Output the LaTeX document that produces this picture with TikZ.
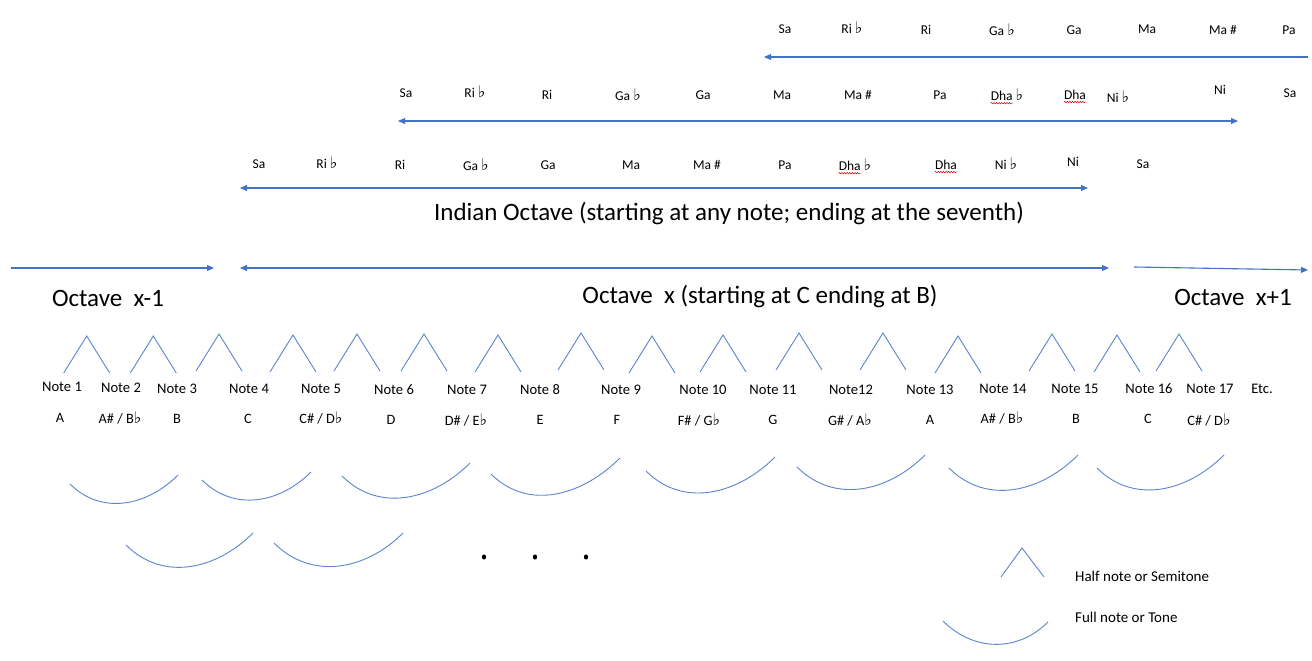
\documentclass[tikz,border=0pt]{standalone}
\usepackage{fontspec}
\setmainfont{Carlito}
\newfontfamily\symfont{DejaVu Sans}
\usetikzlibrary{arrows.meta,decorations.pathmorphing,calc}
\definecolor{lineblue}{HTML}{4472C4}
\definecolor{peakblue}{HTML}{5B84D0}
\newcommand{\fl}{{\symfont\fontsize{16}{10}\selectfont ♭}}
\newcommand{\sfl}{{\symfont\fontsize{16}{10}\selectfont ♭}}
\tikzset{
  sm/.style={font=\fontsize{13.5}{15}\selectfont, inner sep=0pt, anchor=center},
  nm/.style={font=\fontsize{14.3}{16}\selectfont, inner sep=0pt, anchor=center},
  nt/.style={font=\fontsize{14.6}{16}\selectfont, inner sep=0pt, anchor=center},
  big/.style={font=\fontsize{25}{28}\selectfont, inner sep=0pt, anchor=center},
  leg/.style={font=\fontsize{15}{17}\selectfont, inner sep=0pt, anchor=west},
  arrline/.style={draw=lineblue, line width=1.1pt},
  tip/.style={-{Triangle[length=7pt,width=6pt]}},
  biarrow/.style={{Triangle[length=7pt,width=6pt]}-{Triangle[length=7pt,width=6pt]}},
  halfstep/.style={draw=peakblue, line width=0.9pt},
  tonearc/.style={draw=peakblue, line width=0.9pt},
  wavy/.style={draw=red!85!black, line width=0.5pt, decorate, decoration={snake, amplitude=0.7pt, segment length=2.6pt}},
}
\newcommand{\peak}[2]{\draw[halfstep] (#1-23,#2+37) -- (#1,#2) -- (#1+23,#2+37);}
\newcommand{\tarc}[4]{%
  \pgfmathsetmacro{\dd}{0.29*(#3-#1)}%
  \draw[tonearc] (#1,#2) .. controls ({#1+\dd},{#2+\dd}) and ({#3-\dd},{#4+\dd}) .. (#3,#4);}
\begin{document}
\begin{tikzpicture}[x=1pt,y=-1pt]
\fill[white] (0,0) rectangle (1312,661);
\useasboundingbox (0,0) rectangle (1312,661);

% ---------- Row 1 ----------
\node[sm] (r1a) at (785,29) {Sa};
\node[sm] (r1b) at (852,28) {Ri \fl};
\node[sm] (r1c) at (926,30) {Ri};
\node[sm] (r1d) at (1002,30) {Ga \fl};
\node[sm] (r1e) at (1074,30) {Ga};
\node[sm] (r1f) at (1147,29) {Ma};
\node[sm] (r1g) at (1223,30) {Ma \#};
\node[sm] (r1h) at (1289,30) {Pa};
\coordinate (r1s) at (1308,57);
\coordinate (r1t) at (764,57);
\draw[arrline,tip] (r1s) -- (r1t);

% ---------- Row 2 ----------
\node[sm] (r2a) at (406,93) {Sa};
\node[sm] (r2b) at (475,92) {Ri \fl};
\node[sm] (r2c) at (547,95) {Ri};
\node[sm] (r2d) at (628,95) {Ga \fl};
\node[sm] (r2e) at (703,95) {Ga};
\node[sm] (r2f) at (782,95) {Ma};
\node[sm] (r2g) at (858,95) {Ma \#};
\node[sm] (r2h) at (940,95) {Pa};
\node[sm] (r2i) at (1007,95) {Dha \fl};
\node[sm] (r2j) at (1075,95) {Dha};
\node[sm] (r2k) at (1118,97) {Ni \fl};
\node[sm] (r2l) at (1220,90) {Ni};
\node[sm] (r2m) at (1290,93) {Sa};
\coordinate (r2s) at (398,121);
\coordinate (r2t) at (1238,121);
\draw[arrline,biarrow] (r2s) -- (r2t);
\draw[wavy] ($(r2i.base west)+(0,2.4)$) -- ++(22,0);
\draw[wavy] ($(r2j.base west)+(0,2.4)$) -- ++(22,0);

% ---------- Row 3 ----------
\node[sm] (r3a) at (259,164) {Sa};
\node[sm] (r3b) at (327,163) {Ri \fl};
\node[sm] (r3c) at (400,165) {Ri};
\node[sm] (r3d) at (476,165) {Ga \fl};
\node[sm] (r3e) at (548,165) {Ga};
\node[sm] (r3f) at (631,165) {Ma};
\node[sm] (r3g) at (707,165) {Ma \#};
\node[sm] (r3h) at (785,165) {Pa};
\node[sm] (r3i) at (855,165) {Dha \fl};
\node[sm] (r3j) at (946,165) {Dha};
\node[sm] (r3k) at (1006,164) {Ni \fl};
\node[sm] (r3l) at (1073,162) {Ni};
\node[sm] (r3m) at (1143,164) {Sa};
\coordinate (r3s) at (240,188);
\coordinate (r3t) at (1088,188);
\draw[arrline,biarrow] (r3s) -- (r3t);
\draw[wavy] ($(r3i.base west)+(0,2.4)$) -- ++(22,0);
\draw[wavy] ($(r3j.base west)+(0,2.4)$) -- ++(22,0);

\node[big] (indian) at (729,214) {Indian Octave (starting at any note; ending at the seventh)};

% ---------- Octave arrows ----------
\coordinate (o1s) at (11,268);
\coordinate (o1t) at (214,268);
\coordinate (o2s) at (240,268);
\coordinate (o2t) at (1109,268);
\coordinate (o3s) at (1134,267);
\coordinate (o3t) at (1308,270);
\draw[arrline,tip] (o1s) -- (o1t);
\draw[arrline,biarrow] (o2s) -- (o2t);
\draw[arrline,tip] (o3s) -- (o3t);
\node[big] (oct1) at (108,298) {Octave\ \ x-1};
\node[big] (oct2) at (760,297) {Octave\ \ x (starting at C ending at B)};
\node[big] (oct3) at (1233,297) {Octave\ \ x+1};

% ---------- Half steps ----------
\peak{86.7}{336}
\peak{153.3}{336}
\peak{219}{334}
\peak{293}{335}
\peak{357}{334}
\peak{424}{334}
\peak{498}{335}
\peak{581}{333}
\peak{652}{336}
\peak{723}{335}
\peak{799}{333}
\peak{883}{333}
\peak{958}{336}
\peak{1052}{334}
\peak{1117}{335}
\peak{1179}{334}

% ---------- Note numbers ----------
\node[nt] (n1) at (62,387) {Note 1};
\node[nt] (n2) at (121,388) {Note 2};
\node[nt] (n3) at (177,389) {Note 3};
\node[nt] (n4) at (249,389) {Note 4};
\node[nt] (n5) at (321,389) {Note 5};
\node[nt] (n6) at (394,390) {Note 6};
\node[nt] (n7) at (467,390) {Note 7};
\node[nt] (n8) at (540,390) {Note 8};
\node[nt] (n9) at (621,390) {Note 9};
\node[nt] (n10) at (703,390) {Note 10};
\node[nt] (n11) at (773,390) {Note 11};
\node[nt] (n12) at (851,390) {Note12};
\node[nt] (n13) at (930,390) {Note 13};
\node[nt] (n14) at (1003,389) {Note 14};
\node[nt] (n15) at (1075,389) {Note 15};
\node[nt] (n16) at (1149,389) {Note 16};
\node[nt] (n17) at (1210,389) {Note 17};
\node[nt] (etc) at (1262,389) {Etc.};

% ---------- Note names ----------
\node[nm] (m1) at (60,418) {A};
\node[nm] (m2) at (120,418) {A\# / B\sfl};
\node[nm] (m3) at (177,419) {B};
\node[nm] (m4) at (248,419) {C};
\node[nm] (m5) at (321,418) {C\# / D\sfl};
\node[nm] (m6) at (391,420) {D};
\node[nm] (m7) at (466,420) {D\# / E\sfl};
\node[nm] (m8) at (540,420) {E};
\node[nm] (m9) at (617,420) {F};
\node[nm] (m10) at (699,420) {F\# / G\sfl};
\node[nm] (m11) at (773,420) {G};
\node[nm] (m12) at (850,420) {G\# / A\sfl};
\node[nm] (m13) at (930,420) {A};
\node[nm] (m14) at (1002,418) {A\# / B\sfl};
\node[nm] (m15) at (1076,419) {B};
\node[nm] (m16) at (1148,419) {C};
\node[nm] (m17) at (1209,420) {C\# / D\sfl};

% ---------- Tones ----------
\tarc{70}{484}{178}{475}
\tarc{202}{480}{311}{472}
\tarc{342}{476}{470}{463}
\tarc{491}{474}{620}{458}
\tarc{646}{471}{775}{457}
\tarc{797}{467}{925}{455}
\tarc{949}{468}{1078}{455}
\tarc{1097}{468}{1224}{455}
\tarc{126}{545}{253}{533}
\tarc{274}{543}{403}{533}

% ---------- Dots ----------
\fill (484,557) ellipse (2.1 and 2.6);
\fill (535,557) ellipse (2.1 and 2.6);
\fill (586,557) ellipse (2.1 and 2.6);

% ---------- Legend ----------
\draw[halfstep] (1001,577) -- (1022,548) -- (1044,577);
\node[leg] (leg1) at (1075,576) {Half note or Semitone};
\tarc{943}{621}{1048}{622}
\node[leg] (leg2) at (1075,617) {Full note or Tone};
\end{tikzpicture}
\end{document}
